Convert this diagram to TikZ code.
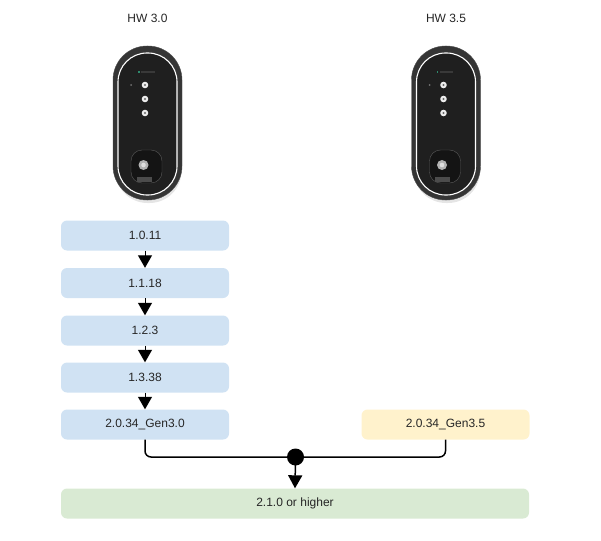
\documentclass[tikz,border=0pt]{standalone}
\usepackage{fontspec}
\setmainfont{Liberation Sans}
\usepackage{tikz}
\usetikzlibrary{arrows.meta,positioning}
\definecolor{verblue}{HTML}{D0E2F3}
\definecolor{veryellow}{HTML}{FFF2CC}
\definecolor{vergreen}{HTML}{D9EAD3}
\definecolor{devbody}{HTML}{353535}
\definecolor{devpanel}{HTML}{1F1F1F}
\definecolor{devlogo}{HTML}{2E8B6E}
\tikzset{ver/.style={fill=verblue,rounded corners=6pt,minimum width=168pt,minimum height=30pt,inner sep=0pt}}

\begin{document}
\begin{tikzpicture}[x=1pt,y=-1pt,font=\fontsize{12}{14}\selectfont,text=black!85]
\useasboundingbox (0,0) rectangle (601,540);
% the two chargers
\foreach \cx in {147.5,446}{
\fill[black!10] (\cx-32,52) [rounded corners=32pt] rectangle (\cx+34,203);
\draw[fill=devbody,draw=black!70,rounded corners=34pt] (\cx-34.5,46) rectangle (\cx+34.5,200);
\draw[fill=devpanel,draw=white,line width=1.1pt,rounded corners=29pt] (\cx-29.5,53) rectangle (\cx+29.5,195);
\fill[devlogo] (\cx-9.5,70.8) rectangle (\cx-8,73.2);
\fill[gray!45!black] (\cx-6.5,71.5) rectangle (\cx+7,72.6);
\fill[black!55] (\cx-16.5,85) circle (1);
\foreach \ly in {85,99,113}{
\fill[white!85!gray] (\cx-2.5,\ly) circle (3.3);
\fill[black!60] (\cx-2.5,\ly) circle (1.2);
}
\draw[fill=black!92,draw=black!65,rounded corners=11pt] (\cx-16.5,150) rectangle (\cx+14.5,183);
\fill[gray!60] (\cx-4,165) circle (5);
\fill[gray!25] (\cx-4,165) circle (2.3);
\fill[black!70] (\cx-11,177) rectangle (\cx+4,182);
}
\node (H1) at (147.5,18) {HW 3.0};
\node (H2) at (446,18) {HW 3.5};
\node[ver] (A) at (145,235.5) {1.0.11};
\node[ver] (B) at (145,283) {1.1.18};
\node[ver] (C) at (145,330.5) {1.2.3};
\node[ver] (D) at (145,377.5) {1.3.38};
\node[ver] (E) at (145,424.5) {2.0.34\_Gen3.0};
\node[ver,fill=veryellow] (F) at (445.5,424.5) {2.0.34\_Gen3.5};
\node[ver,fill=vergreen,minimum width=468pt] (G) at (295,503.5) {2.1.0 or higher};
\coordinate (J) at (295.5,457);
\path[-{Triangle[width=14pt,length=12.5pt]},line width=1pt]
(A) edge (B)
(B) edge (C)
(C) edge (D)
(D) edge (E);
\draw[line width=1.5pt,rounded corners=6pt] (E.south) |- (J) -| (F.south);
\fill (J) circle (8.5);
\draw[line width=1.5pt,-{Triangle[width=14pt,length=13pt]}] (J) -- (G.north);
\end{tikzpicture}
\end{document}
